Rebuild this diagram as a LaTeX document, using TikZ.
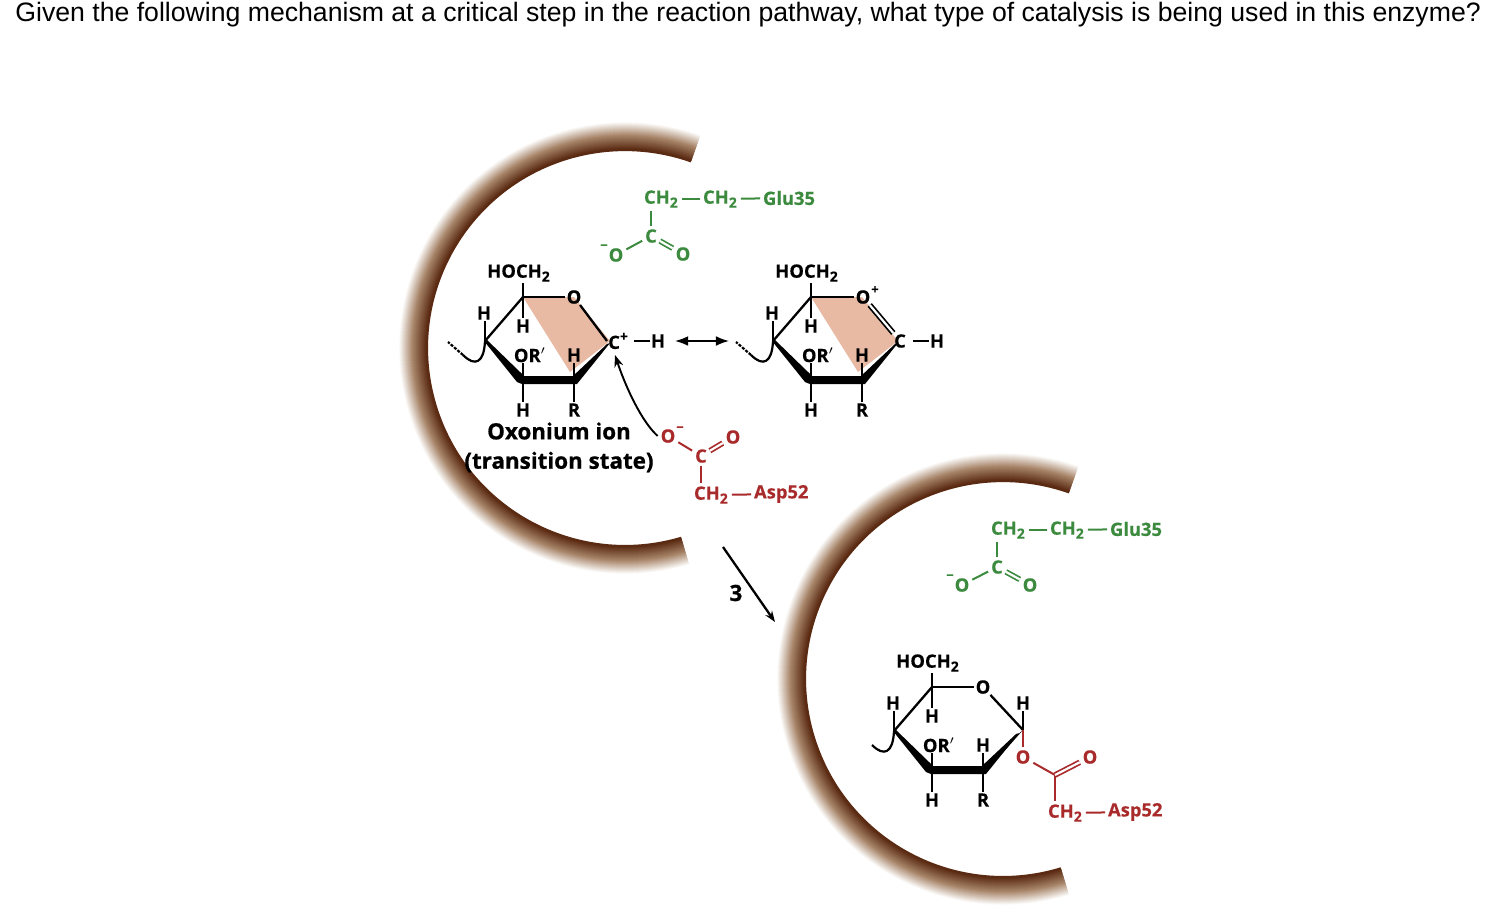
\documentclass[tikz,border=0pt]{standalone}
\usepackage{fontspec}
\setmainfont{Liberation Sans}
\newfontfamily\labelfont{Open Sans}[BoldFeatures={FakeBold=0.25}]
\newfontfamily\heavyfont{Open Sans}[BoldFeatures={FakeBold=0.7}]
\usetikzlibrary{arrows.meta}
\definecolor{gluG}{HTML}{3B8A3E}
\definecolor{aspR}{HTML}{A82A2A}
\definecolor{salmon}{HTML}{E8B9A3}
\definecolor{brownD}{HTML}{5A2A12}
\definecolor{tanM}{HTML}{A8866A}
\newcommand{\sub}[1]{\textsubscript{\scriptsize #1}}
\newcommand{\enzarc}[5]{% cx cy rinner a1 a2
  \foreach \k in {27,26,...,0}{%
    \pgfmathsetmacro{\mixa}{max(0,100-\k*7.1)}%
    \pgfmathsetmacro{\mixb}{min(100,max(0,100-(\k-14)*7.5))}%
    \pgfmathsetmacro{\rad}{#3+\k}%
    \draw[line width=1.1pt,color=brownD!\mixa!tanM!\mixb!white]
      ([shift={(#4:\rad)}]#1,#2) arc[start angle=#4,end angle=#5,radius=\rad];%
  }}
\tikzset{x=0.5pt,y=-0.5pt,
  lab/.style={inner sep=0pt,outer sep=0.6pt,font=\labelfont\bfseries\fontsize{9.2}{10}\selectfont,text=black},
  glab/.style={lab,outer sep=1.5pt,text=gluG},
  rlab/.style={lab,outer sep=1.5pt,text=aspR},
  tiny/.style={font=\labelfont\bfseries\fontsize{6.5}{7}\selectfont},
  big/.style={inner sep=0pt,font=\heavyfont\bfseries\fontsize{11.2}{12}\selectfont},
  bond/.style={line width=1.15pt,black},
  gbond/.style={line width=1pt,gluG},
  rbond/.style={line width=1pt,aspR},
  dbl/.style={double,double distance=1.1pt,line width=0.85pt},
  tail/.style={line width=1.1pt,black}}
% ring skeleton: coordinates are relative to C5 = (0,0)
\newcommand{\ringskel}{%
  \coordinate (c5) at (0,0);
  \coordinate (c1) at (87,44);
  \coordinate (c2) at (51,83);
  \coordinate (c3) at (0,83);
  \coordinate (c4) at (-38,44);
  \node[lab] (hoch) at (-4,-24) {HOCH\sub{2}};
  \node[lab] (h4) at (-39,16) {H};
  \node[lab] (h5) at (0,29) {H};
  \node[lab] (or) at (7,58) {OR$'$};
  \node[lab] (h2) at (51,58) {H};
  \node[lab] (h3) at (0,113) {H};
  \node[lab] (r) at (51,113) {R};
  \draw[bond] (c5) -- (c5|-hoch.south);
  \draw[bond] (c5) -- (h5);
  \draw[bond] (c5) -- (c4);
  \draw[bond] (c4) -- (c4|-h4.south);
  \draw[bond] (c3) -- (or.south-|c3);
  \draw[bond] (c3) -- (h3);
  \draw[bond] (c2) -- (h2);
  \draw[bond] (c2) -- (r);
  \fill[black] (-39,44) -- (-37,42) -- (-3,75) -- (1,79) -- (50,79) -- (84,47) -- (87,46) -- (54,87) -- (-1,87) -- (-6,85) -- cycle;
  \draw[tail] (c4) .. controls (-39,66) and (-48,70) .. (-60,58);
}
\begin{document}
\begin{tikzpicture}
\useasboundingbox (0,0) rectangle (1502,910);
\node[inner sep=0pt,anchor=west,font=\fontsize{13.32}{15}\selectfont] (title) at (15,15) {Given the following mechanism at a critical step in the reaction pathway, what type of catalysis is being used in this enzyme?};
% enzyme arcs
\enzarc{625}{348}{198}{73.5}{289.5}
\enzarc{1003}{679}{198}{73}{289.5}
% left ring
\begin{scope}[shift={(523,297)},name prefix=a-]
  \fill[salmon] (0,0) -- (51,0) -- (87,44) -- (47,75) -- cycle;
  \ringskel
  \node[lab] (o) at (51,0) {O};
  \node[lab,anchor=west] (cp) at (84,44) {C\textsuperscript{\scriptsize +}};
  \node[lab] (hr) at (135,44) {H};
  \coordinate (hb) at (111,44);
  \coordinate (tip) at (92,58);
  \coordinate (dd) at (-75,45);
  \coordinate (te) at (-60,58);
  \draw[bond] (c5) -- (o);
  \draw[bond] (o) -- (cp.west);
  \draw[bond] (hb) -- (hr);
  \draw[tail,dash pattern=on 1.5pt off 0.7pt] (te) -- (dd);
\end{scope}
% middle ring
\begin{scope}[shift={(811,297)},name prefix=b-]
  \fill[salmon] (0,0) -- (51,0) -- (87,44) -- (47,75) -- cycle;
  \ringskel
  \node[lab] (o) at (52,0) {O};
  \node[lab,tiny] (op) at (64,-7) {+};
  \node[lab] (cc) at (89,44) {C};
  \node[lab] (hr) at (126,44) {H};
  \coordinate (dd) at (-75,45);
  \coordinate (te) at (-60,58);
  \coordinate (hb) at (102,44);
  \draw[bond] (c5) -- (o);
  \draw[bond,dbl] (o) -- (cc);
  \draw[bond] (hb) -- (hr);
  \draw[tail,dash pattern=on 1.5pt off 0.7pt] (te) -- (dd);
\end{scope}
\coordinate (da) at (675,341);
\coordinate (db) at (729,341);
\draw[Latex-Latex,line width=0.8pt] (da) -- (db);
% bottom ring
\begin{scope}[shift={(932,687)},name prefix=c-]
  \ringskel
  \node[lab] (o) at (51,0) {O};
  \node[lab] (h1) at (91,16) {H};
  \coordinate (c1b) at (91,43);
  \coordinate (cc) at (123,88);
  \fill[black] (c1b) -- (52,87) -- (50,79) -- cycle;
  \draw[bond] (c5) -- (o);
  \draw[bond] (o) -- (c1b);
  \draw[bond] (c1b) -- (h1);
  \node[rlab] (oe) at (91,70) {O};
  \node[rlab] (oc) at (158,70) {O};
  \node[rlab,anchor=west] (ch) at (113,126) {CH\sub{2}};
  \node[rlab,anchor=west] (asp) at (173,125) {Asp52};
  \draw[rbond] (c1b) -- (oe);
  \draw[rbond] (oe) -- (cc);
  \draw[rbond] (cc) -- (ch.north-|cc);
  \draw[rbond,dbl] (cc) -- (oc);
  \draw[rbond] (ch) -- (asp);
\end{scope}
% Glu35 top
\begin{scope}[name prefix=g-]
  \node[glab,anchor=west] (ch1) at (641,199) {CH\sub{2}};
  \node[glab,anchor=west] (ch2) at (700,199) {CH\sub{2}};
  \node[glab,anchor=west] (glu) at (760,198) {Glu35};
  \node[glab] (c) at (651,236) {C};
  \node[glab] (om) at (616,255) {O};
  \node[glab] (od) at (683,254) {O};
  \node[glab,tiny] (mi) at (604,247) {−};
  \draw[gbond] (ch1) -- (ch2);
  \draw[gbond] (ch2) -- (glu);
  \draw[gbond] (c) -- (c|-ch1.south);
  \draw[gbond] (c) -- (om);
  \draw[gbond,dbl] (c) -- (od);
\end{scope}
% Glu35 bottom
\begin{scope}[name prefix=k-]
  \node[glab,anchor=west] (ch1) at (988,530) {CH\sub{2}};
  \node[glab,anchor=west] (ch2) at (1047,530) {CH\sub{2}};
  \node[glab,anchor=west] (glu) at (1107,529) {Glu35};
  \node[glab] (c) at (997,567) {C};
  \node[glab] (om) at (962,585) {O};
  \node[glab] (od) at (1030,585) {O};
  \node[glab,tiny] (mi) at (950,577) {−};
  \draw[gbond] (ch1) -- (ch2);
  \draw[gbond] (ch2) -- (glu);
  \draw[gbond] (c) -- (c|-ch1.south);
  \draw[gbond] (c) -- (om);
  \draw[gbond,dbl] (c) -- (od);
\end{scope}
% Asp52 upper
\begin{scope}[name prefix=d-]
  \node[rlab] (om) at (668,436) {O};
  \node[rlab,tiny] (mi) at (680,429) {−};
  \node[rlab] (c) at (701,456) {C};
  \node[rlab] (od) at (733,437) {O};
  \node[rlab,anchor=west] (ch) at (691,495) {CH\sub{2}};
  \node[rlab,anchor=west] (asp) at (751,494) {Asp52};
  \draw[rbond] (om) -- (c);
  \draw[rbond,dbl] (c) -- (od);
  \draw[rbond] (c) -- (c|-ch.north);
  \draw[rbond] (ch) -- (asp);
\end{scope}
\draw[-{Stealth[length=6pt,width=4.5pt]},line width=0.95pt] (d-om.west) .. controls (642,422) and (626,388) .. (a-tip);
\node[big] (ox) at (559,431) {Oxonium ion};
\node[big] (ts) at (559,462) {(transition state)};
\coordinate (s1) at (723,547);
\coordinate (s2) at (775,622);
\draw[-{Stealth[length=5.5pt,width=4pt]},line width=1.15pt] (s1) -- (s2);
\node[big] (three) at (736,593) {3};
\end{tikzpicture}
\end{document}
